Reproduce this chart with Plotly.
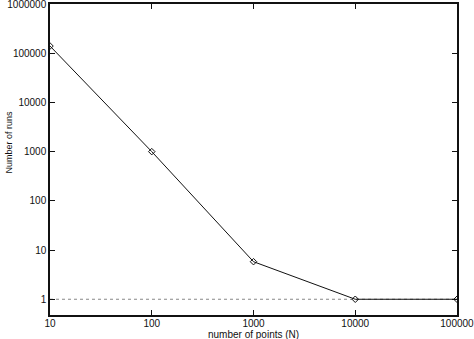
import plotly.graph_objects as go

points_n = [10, 100, 1000, 10000, 100000]
runs = [140000, 1000, 5.8, 1, 1]
baseline_x = [10, 100000]
baseline_y = [1, 1]

x_ticks = [10, 100, 1000, 10000, 100000]
x_tick_labels = ["10", "100", "1000", "10000", "100000"]
y_ticks = [1, 10, 100, 1000, 10000, 100000, 1000000]
y_tick_labels = ["1", "10", "100", "1000", "10000", "100000", "1000000"]

FONT = "Liberation Sans, Arial, sans-serif"

fig = go.Figure()
fig.add_trace(go.Scatter(
    x=baseline_x, y=baseline_y, mode="lines",
    line=dict(color="#888888", width=1.2, dash="dot"),
    showlegend=False, hoverinfo="skip"))
fig.add_trace(go.Scatter(
    x=points_n, y=runs, mode="lines+markers",
    line=dict(color="#111111", width=1),
    marker=dict(symbol="diamond-open", size=5, color="#111111", line=dict(width=1)),
    showlegend=False))

axis_common = dict(
    type="log", showgrid=False, zeroline=False, automargin=False,
    showline=True, linecolor="#111111", linewidth=1.5, mirror="ticks",
    ticks="inside", ticklen=5, tickcolor="#111111",
    ticklabeloverflow="allow",
    tickfont=dict(family=FONT, size=10, color="#111111"),
)

fig.update_layout(
    width=474, height=339,
    margin=dict(l=50, r=17, t=4, b=24),
    paper_bgcolor="white", plot_bgcolor="white",
    xaxis=dict(range=[1, 5], tickvals=x_ticks, ticktext=x_tick_labels,
               ticklabelstandoff=-2, **axis_common),
    yaxis=dict(range=[-0.32, 6], tickvals=y_ticks, ticktext=y_tick_labels, **axis_common),
    annotations=[
        dict(text="number of points (N)", x=0.5, xref="paper", y=0, yref="paper",
             yshift=-27, xanchor="center", yanchor="bottom", showarrow=False,
             font=dict(family=FONT, size=10, color="#111111")),
        dict(text="Number of runs", x=0, xref="paper", xshift=-42, y=0.5, yref="paper",
             yshift=17, textangle=-90, xanchor="center", yanchor="middle", showarrow=False,
             font=dict(family=FONT, size=9, color="#111111")),
    ],
)

fig.write_html("out.html", config={"displayModeBar": False},
               post_script="document.body.style.margin='0';")
